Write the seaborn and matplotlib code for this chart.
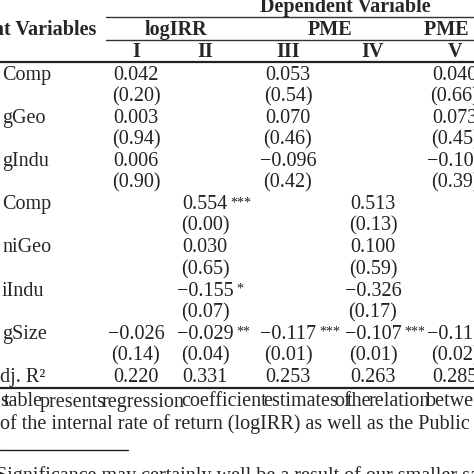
import matplotlib
matplotlib.use("Agg")
import matplotlib.pyplot as plt
import seaborn as sns

sns.set_theme(style="white")
plt.rcParams['font.family'] = ['Liberation Serif', 'DejaVu Serif']

columns = ["I", "II", "III", "IV", "V"]
groups = ["logIRR", "PME", "PME (B"]
row_labels = ["Comp", "", "gGeo", "", "gIndu", "", "Comp", "", "niGeo", "", "iIndu", "", "gSize", "", "dj. R\u00b2"]
cells = [
    ["0.042", "", "0.053", "", "0.040"],
    ["(0.20)", "", "(0.54)", "", "(0.66)"],
    ["0.003", "", "0.070", "", "0.073"],
    ["(0.94)", "", "(0.46)", "", "(0.45)"],
    ["0.006", "", "\u22120.096", "", "\u22120.104"],
    ["(0.90)", "", "(0.42)", "", "(0.39)"],
    ["", "0.554", "", "0.513", ""],
    ["", "(0.00)", "", "(0.13)", ""],
    ["", "0.030", "", "0.100", ""],
    ["", "(0.65)", "", "(0.59)", ""],
    ["", "\u22120.155", "", "\u22120.326", ""],
    ["", "(0.07)", "", "(0.17)", ""],
    ["\u22120.026", "\u22120.029", "\u22120.117", "\u22120.107", "\u22120.117"],
    ["(0.14)", "(0.04)", "(0.01)", "(0.01)", "(0.02)"],
    ["0.220", "0.331", "0.253", "0.263", "0.285"],
]
stars = {(6, 1): "***", (10, 1): "*", (12, 1): "**", (12, 2): "***", (12, 3): "***"}
note1 = "s table presents regression coefficient estimates of the relation betwe"
note2 = "of the internal rate of return (logIRR) as well as the Public Market Equivale"
note3 = "Significance may certainly well be a result of our smaller sample. However, r"

fig = plt.figure(figsize=(4.74, 4.74), dpi=100)
ax = fig.add_axes([0, 0, 1, 1])
ax.set_xlim(0, 474); ax.set_ylim(474, 0); ax.axis("off")
fs = 14.5
col_x = [136, 205, 288, 373, 455]
fig.canvas.draw()
r = fig.canvas.get_renderer()

def width(s, **kw):
    t = ax.text(0, -100, s, fontsize=fs, **kw)
    w = t.get_window_extent(r).width
    t.remove()
    return w

ax.text(345, 7, "Dependent Variable", ha="center", va="center", fontsize=fs, fontweight="bold")
ax.plot([106, 474], [17, 17], color="#333", lw=1)
ax.text(176, 30, groups[0], ha="center", va="center", fontsize=fs, fontweight="bold")
ax.text(330, 30, groups[1], ha="center", va="center", fontsize=fs, fontweight="bold")
ax.text(424, 30, groups[2], ha="left", va="center", fontsize=fs, fontweight="bold")
ax.plot([106, 474], [40, 40], color="#333", lw=1)
ax.text(96, 30, "Independent Variables", ha="right", va="center", fontsize=fs, fontweight="bold")
for c, x in zip(columns, col_x):
    ax.text(x, 52, c, ha="center", va="center", fontsize=fs, fontweight="bold")
ax.plot([0, 474], [62, 62], color="#222", lw=1.6)
y0, dy = 75, 21.6
for i, (lab, row) in enumerate(zip(row_labels, cells)):
    y = y0 + i * dy
    if lab:
        ax.text(2 if not lab.startswith("dj") else 0, y, lab, ha="left", va="center", fontsize=fs)
    for j, v in enumerate(row):
        if not v:
            continue
        ax.text(col_x[j], y, v, ha="center", va="center", fontsize=fs, color="#222")
        if (i, j) in stars:
            ax.text(col_x[j] + width(v) / 2 + 3, y - 2, stars[(i, j)], ha="left", va="center",
                    fontsize=10, color="#222")
ax.plot([0, 474], [388, 388], color="#222", lw=1.6)

words = note1.split()
tw = [width(w) for w in words]
gap = (474 - sum(tw)) / (len(words) - 1)
x = 0
for w, wd in zip(words, tw):
    ax.text(x, 402, w, ha="left", va="center", fontsize=fs)
    x += wd + gap
ax.text(0, 424, note2, ha="left", va="center", fontsize=fs)
ax.plot([0, 128], [450, 450], color="#222", lw=1)
ax.text(-4, 476, note3, ha="left", va="center", fontsize=fs)
fig.savefig("out.png", dpi=100)
